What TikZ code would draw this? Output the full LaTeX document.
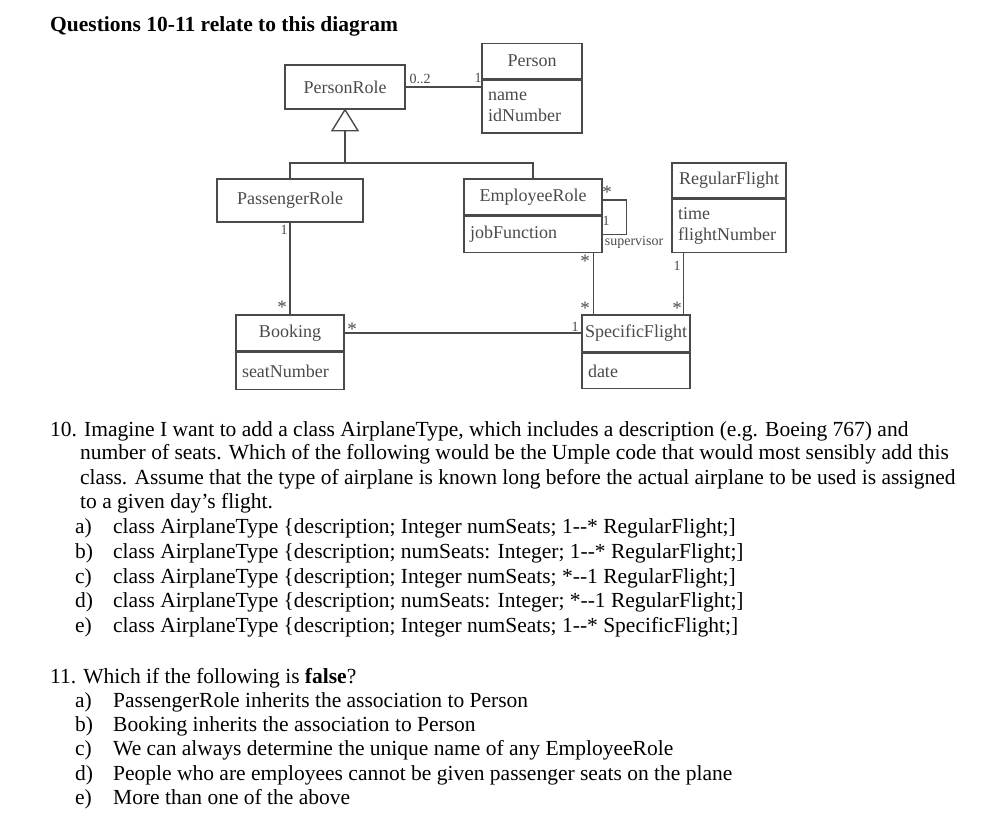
\documentclass[tikz,border=0pt]{standalone}
\usepackage{fontspec}
\setmainfont{Liberation Serif}
\usetikzlibrary{positioning}
\definecolor{umlgray}{HTML}{4A4A4A}

\begin{document}
\begin{tikzpicture}
[
    x=1pt, y=-1pt,
    umlline/.style={draw=umlgray, line width=1.4pt},
    classname/.style={umlline, text=umlgray, font=\fontsize{18}{20}\selectfont, inner sep=0pt, align=center},
    attrs/.style={umlline, text=umlgray, font=\fontsize{18}{21}\selectfont, inner ysep=0pt, inner xsep=6pt, align=left},
    mult/.style={text=umlgray, font=\fontsize{14}{14}\selectfont, inner sep=0pt},
    many/.style={mult, font=\fontsize{19}{19}\selectfont, yshift=-3pt},
    qtext/.style={anchor=base west, inner sep=0pt, font=\fontsize{21.5}{24}\selectfont},
]
\useasboundingbox (0,0) rectangle (993,828);

% classes
\node [classname, minimum width=120pt, minimum height=44pt] (personrole) at (345,87) {PersonRole};
\node [classname, minimum width=100pt, minimum height=35pt] (person) at (532,61) {Person};
\node [attrs, text width=88pt, minimum height=53pt, below=0pt of person] (personattr) {name\\idNumber};
\node [classname, minimum width=146pt, minimum height=43pt] (passengerrole) at (290,200.5) {PassengerRole};
\node [classname, minimum width=138pt, minimum height=36pt] (employeerole) at (533,197) {EmployeeRole};
\node [attrs, text width=126pt, minimum height=36pt, below=0pt of employeerole] (employeeattr) {jobFunction};
\node [classname, minimum width=114pt, minimum height=35pt] (regularflight) at (729,180.5) {RegularFlight};
\node [attrs, text width=102pt, minimum height=53pt, below=0pt of regularflight] (regularattr) {time\\flightNumber};
\node [classname, minimum width=108pt, minimum height=36pt] (booking) at (290,333) {Booking};
\node [attrs, text width=96pt, minimum height=37pt, below=0pt of booking] (bookingattr) {seatNumber};
\node [classname, minimum width=108pt, minimum height=37pt] (specificflight) at (636,333.5) {SpecificFlight};
\node [attrs, text width=96pt, minimum height=35pt, below=0pt of specificflight] (specificattr) {date};

% generalization
\coordinate (tribase) at ([yshift=-21pt]personrole.south);
\coordinate (genbar) at (345,163);
\draw [umlline] (personrole.south) -- ([xshift=-13pt]tribase) -- ([xshift=13pt]tribase) -- cycle;
\draw [umlline] (tribase) -- (genbar);
\draw [umlline] (passengerrole.north) |- (genbar) -| (employeerole.north);

% associations
\draw [umlline] (personrole.east) -- (personrole.east -| personattr.west);
\draw [umlline] (passengerrole.south) -- (booking.north);
\draw [umlline] (booking.east) -- (booking.east -| specificflight.west);
\draw [umlline] ([xshift=-9pt]employeeattr.south east) -- ([xshift=-9pt]employeeattr.south east |- specificflight.north);
\draw [umlline] ([xshift=-7pt]specificflight.north east) -- ([xshift=-7pt]specificflight.north east |- regularattr.south);
\draw [umlline] ([yshift=-3pt]employeerole.east) -| ([xshift=24pt]employeeattr.east) -- (employeeattr.east);

% multiplicities
\node [mult] (m1) at (420,79) {0..2};
\node [mult] (m2) at (478,78) {1};
\node [mult] (m3) at (284,230) {1};
\node [many] (m4) at (282,304) {*};
\node [many] (m5) at (352,326) {*};
\node [mult] (m6) at (575,327) {1};
\node [many] (m7) at (585,258) {*};
\node [many] (m8) at (585,305) {*};
\node [mult] (m9) at (677,266) {1};
\node [many] (m10) at (677,305) {*};
\node [many] (m11) at (607,189) {*};
\node [mult] (m12) at (606,221) {1};
\node [mult] (role) at (634,242) {supervisor};

% questions
\node [qtext, font=\fontsize{21.5}{24}\bfseries] (title) at (50,31) {Questions 10-11 relate to this diagram};

\node [qtext] (q10) at (50,436) {10. Imagine I want to add a class AirplaneType, which includes a description (e.g. Boeing 767) and};
\node [qtext] (q10b) at (80,459) {number of seats. Which of the following would be the Umple code that would most sensibly add this};
\node [qtext] (q10c) at (80,484) {class. Assume that the type of airplane is known long before the actual airplane to be used is assigned};
\node [qtext] (q10d) at (80,508) {to a given day’s flight.};
\node [qtext] (q10al) at (75,533) {a)};
\node [qtext] (q10a) at (113,533) {class AirplaneType \{description; Integer numSeats; 1-{}-* RegularFlight;]};
\node [qtext] (q10bl) at (75,558) {b)};
\node [qtext] (q10bb) at (113,558) {class AirplaneType \{description; numSeats: Integer; 1-{}-* RegularFlight;]};
\node [qtext] (q10cl) at (75,583) {c)};
\node [qtext] (q10cc) at (113,583) {class AirplaneType \{description; Integer numSeats; *-{}-1 RegularFlight;]};
\node [qtext] (q10dl) at (75,607) {d)};
\node [qtext] (q10dd) at (113,607) {class AirplaneType \{description; numSeats: Integer; *-{}-1 RegularFlight;]};
\node [qtext] (q10el) at (75,632) {e)};
\node [qtext] (q10ee) at (113,632) {class AirplaneType \{description; Integer numSeats; 1-{}-* SpecificFlight;]};

\node [qtext] (q11) at (50,683) {11. Which if the following is \textbf{false}?};
\node [qtext] (q11al) at (75,707) {a)};
\node [qtext] (q11a) at (113,707) {PassengerRole inherits the association to Person};
\node [qtext] (q11bl) at (75,731) {b)};
\node [qtext] (q11b) at (113,731) {Booking inherits the association to Person};
\node [qtext] (q11cl) at (75,755) {c)};
\node [qtext] (q11c) at (113,755) {We can always determine the unique name of any EmployeeRole};
\node [qtext] (q11dl) at (75,780) {d)};
\node [qtext] (q11d) at (113,780) {People who are employees cannot be given passenger seats on the plane};
\node [qtext] (q11el) at (75,804) {e)};
\node [qtext] (q11e) at (113,804) {More than one of the above};
\end{tikzpicture}
\end{document}
